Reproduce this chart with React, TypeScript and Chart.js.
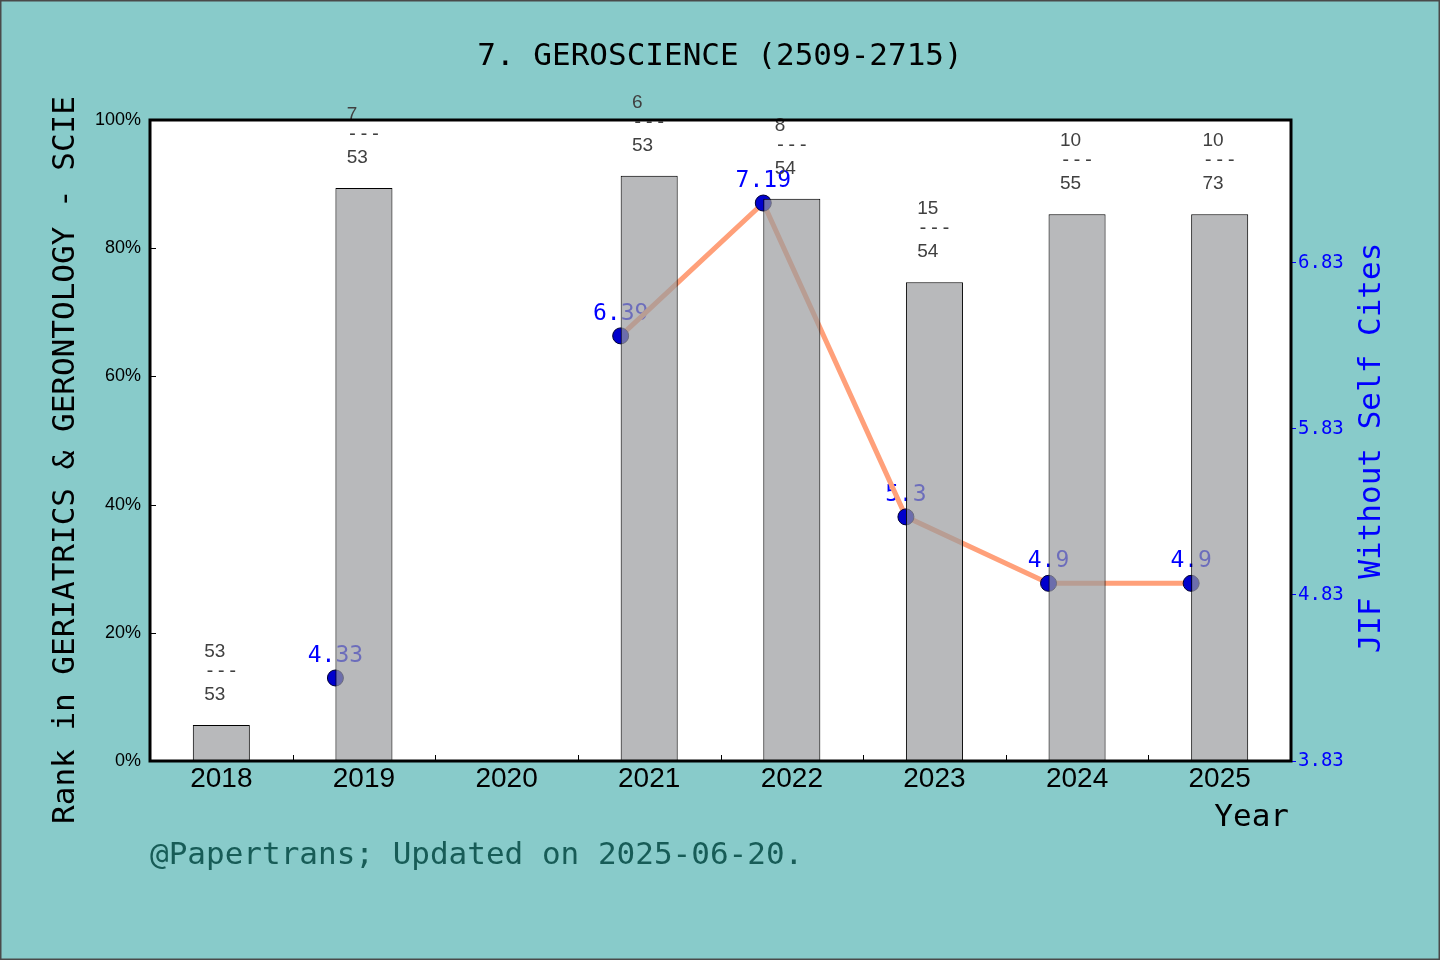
import React, { useEffect, useRef } from "react";
import { Chart, registerables } from "chart.js";

Chart.register(...registerables);

// ---- data ----
const years = ["2018", "2019", "2020", "2021", "2022", "2023", "2024", "2025"];
const rankPercent: (number | null)[] = [5.6, 89.4, null, 91.3, 87.7, 74.7, 85.3, 85.3];
const ranks: (number | null)[] = [53, 7, null, 6, 8, 15, 10, 10];
const totals: (number | null)[] = [53, 53, null, 53, 54, 54, 55, 73];
const jifValues: (number | null)[] = [null, 4.33, null, 6.39, 7.19, 5.3, 4.9, 4.9];
const leftTicks = [0, 20, 40, 60, 80, 100];
const rightTicks = [3.83, 4.83, 5.83, 6.83];
const rightMin = 3.83;
const rightMax = 7.69;
const titleText = "7. GEROSCIENCE (2509-2715)";
const leftAxisTitle = "Rank in GERIATRICS & GERONTOLOGY - SCIE";
const rightAxisTitle = "JIF Without Self Cites";
const xAxisTitle = "Year";
const footerText = "@Papertrans; Updated on 2025-06-20.";

const MONO = "'DejaVu Sans Mono', monospace";
const SANS = "'Liberation Sans', Arial, sans-serif";
const BG = "#88CBCA";

const customPlugin = {
  id: "customDecor",
  beforeDraw(chart: any) {
    const { ctx, chartArea: a, width, height } = chart;
    ctx.save();
    ctx.fillStyle = BG;
    ctx.fillRect(0, 0, width, height);
    ctx.fillStyle = "#ffffff";
    ctx.fillRect(a.left, a.top, a.right - a.left, a.bottom - a.top);
    ctx.restore();
  },
  afterDatasetsUpdate(chart: any) {
    const barMeta = chart.getDatasetMeta(0);
    const lineMeta = chart.getDatasetMeta(1);
    lineMeta.data.forEach((pt: any, i: number) => {
      const bar = barMeta.data[i];
      if (bar && jifValues[i] !== null && isFinite(bar.x) && isFinite(bar.width)) {
        pt.x = bar.x - bar.width / 2;
      }
    });
  },
  beforeDatasetsDraw(chart: any) {
    const { ctx } = chart;
    const lineMeta = chart.getDatasetMeta(1);
    ctx.save();
    ctx.font = `23px ${MONO}`;
    ctx.fillStyle = "#0000FF";
    ctx.textAlign = "center";
    ctx.textBaseline = "alphabetic";
    lineMeta.data.forEach((pt: any, i: number) => {
      const v = jifValues[i];
      if (v === null) return;
      ctx.fillText(String(v), pt.x, pt.y - 16);
    });
    ctx.restore();
  },
  afterDatasetsDraw(chart: any) {
    const { ctx, chartArea: a } = chart;
    const barMeta = chart.getDatasetMeta(0);
    // bar labels
    ctx.save();
    ctx.textBaseline = "middle";
    ctx.textAlign = "left";
    barMeta.data.forEach((bar: any, i: number) => {
      if (rankPercent[i] === null || ranks[i] === null) return;
      const lines = [String(ranks[i]), "---", String(totals[i])];
      ctx.font = `19px ${MONO}`;
      const dashW = ctx.measureText("---").width;
      ctx.font = `19px ${SANS}`;
      const w0 = ctx.measureText(lines[0]).width;
      const w2 = ctx.measureText(lines[2]).width;
      const maxW = Math.max(dashW, w0, w2);
      const left = bar.x - maxW / 2;
      ctx.fillStyle = "#404040";
      ctx.font = `19px ${SANS}`;
      ctx.fillText(lines[0], left, bar.y - 73);
      ctx.font = `19px ${MONO}`;
      ctx.fillText(lines[1], left, bar.y - 53);
      ctx.font = `19px ${SANS}`;
      ctx.fillText(lines[2], left, bar.y - 30);
    });
    ctx.restore();

    // inward ticks
    ctx.save();
    ctx.strokeStyle = "#000";
    ctx.lineWidth = 1;
    const yScale = chart.scales.y;
    leftTicks.forEach((v) => {
      const py = Math.round(yScale.getPixelForValue(v)) + 0.5;
      ctx.beginPath();
      ctx.moveTo(a.left, py);
      ctx.lineTo(a.left + 6, py);
      ctx.stroke();
    });
    const xScale = chart.scales.x;
    for (let i = 0; i < years.length - 1; i++) {
      const px = Math.round(xScale.getPixelForValue(i + 0.5)) + 0.5;
      ctx.beginPath();
      ctx.moveTo(px, a.bottom);
      ctx.lineTo(px, a.bottom - 6);
      ctx.stroke();
    }
    // plot border
    ctx.lineWidth = 3;
    ctx.strokeRect(a.left, a.top, a.right - a.left, a.bottom - a.top);
    ctx.restore();
  },
  afterDraw(chart: any) {
    const { ctx, width, height } = chart;
    ctx.save();
    // title
    ctx.fillStyle = "#000";
    ctx.font = `31px ${MONO}`;
    ctx.textAlign = "center";
    ctx.textBaseline = "middle";
    ctx.fillText(titleText, 720, 57);
    // footer
    ctx.fillStyle = "#175C57";
    ctx.textAlign = "left";
    ctx.fillText(footerText, 150, 856);
    // x axis title
    ctx.fillStyle = "#000";
    ctx.textAlign = "right";
    ctx.fillText(xAxisTitle, 1289, 818);
    // left axis title
    ctx.save();
    ctx.translate(66, 460);
    ctx.rotate(-Math.PI / 2);
    ctx.textAlign = "center";
    ctx.fillStyle = "#000";
    ctx.fillText(leftAxisTitle, 0, 0);
    ctx.restore();
    // right axis title
    ctx.save();
    ctx.translate(1372, 448);
    ctx.rotate(-Math.PI / 2);
    ctx.textAlign = "center";
    ctx.fillStyle = "#0000FF";
    ctx.fillText(rightAxisTitle, 0, 0);
    ctx.restore();
    // outer border
    ctx.strokeStyle = "#4a4a4a";
    ctx.lineWidth = 1.5;
    ctx.strokeRect(0.75, 0.75, width - 1.5, height - 1.5);
    ctx.restore();
  },
};

export default function App() {
  const canvasRef = useRef<HTMLCanvasElement | null>(null);

  useEffect(() => {
    document.body.style.margin = "0";
    const canvas = canvasRef.current;
    if (!canvas) return;
    const chart = new Chart(canvas, {
      type: "bar",
      data: {
        labels: years,
        datasets: [
          {
            type: "bar",
            label: "Rank",
            data: rankPercent as any,
            yAxisID: "y",
            backgroundColor: "rgba(154,155,158,0.7)",
            borderColor: "#000000",
            borderWidth: 1,
            barPercentage: 0.4,
            categoryPercentage: 1,
            order: 1,
          },
          {
            type: "line",
            label: "JIF",
            data: jifValues as any,
            yAxisID: "y1",
            borderColor: "#FFA07A",
            borderWidth: 5,
            pointRadius: 8,
            pointHoverRadius: 8,
            pointBackgroundColor: "#0000CD",
            pointBorderColor: "#000033",
            pointBorderWidth: 1,
            spanGaps: false,
            tension: 0,
            order: 2,
          } as any,
        ],
      },
      options: {
        animation: false,
        responsive: true,
        maintainAspectRatio: false,
        layout: { padding: { top: 120, left: 0, right: 0, bottom: 0 } },
        plugins: {
          legend: { display: false },
          tooltip: { enabled: false },
          title: { display: false },
        },
        events: [],
        scales: {
          x: {
            type: "category",
            grid: { display: true, drawOnChartArea: false, drawTicks: false, color: "rgba(0,0,0,0)" },
            border: { display: false },
            ticks: {
              color: "#000",
              font: { family: SANS, size: 28 },
              padding: 1,
              maxRotation: 0,
              autoSkip: false,
            },
            afterFit: (s: any) => {
              s.height = 199;
            },
          },
          y: {
            position: "left",
            min: 0,
            max: 100,
            afterBuildTicks: (s: any) => {
              s.ticks = leftTicks.map((v) => ({ value: v }));
            },
            grid: { display: true, drawOnChartArea: false, drawTicks: false, color: "rgba(0,0,0,0)" },
            border: { display: false },
            ticks: {
              color: "#000",
              font: { family: SANS, size: 18 },
              padding: 9,
              callback: (v: any) => `${v}%`,
            },
            afterFit: (s: any) => {
              s.width = 150;
            },
          },
          y1: {
            position: "right",
            min: rightMin,
            max: rightMax,
            afterBuildTicks: (s: any) => {
              s.ticks = rightTicks.map((v) => ({ value: v }));
            },
            grid: {
              display: true,
              drawOnChartArea: false,
              drawTicks: true,
              tickLength: 5,
              tickColor: "#0000FF",
              color: "#0000FF",
            },
            border: { display: false },
            ticks: {
              color: "#0000FF",
              font: { family: MONO, size: 19 },
              padding: 2,
              callback: (v: any) => String(v),
            },
            afterFit: (s: any) => {
              s.width = 149;
            },
          },
        },
      },
      plugins: [customPlugin],
    });
    return () => {
      chart.destroy();
    };
  }, []);

  return (
    <div style={{ width: 1440, height: 960, position: "relative" }}>
      <canvas ref={canvasRef} />
    </div>
  );
}
